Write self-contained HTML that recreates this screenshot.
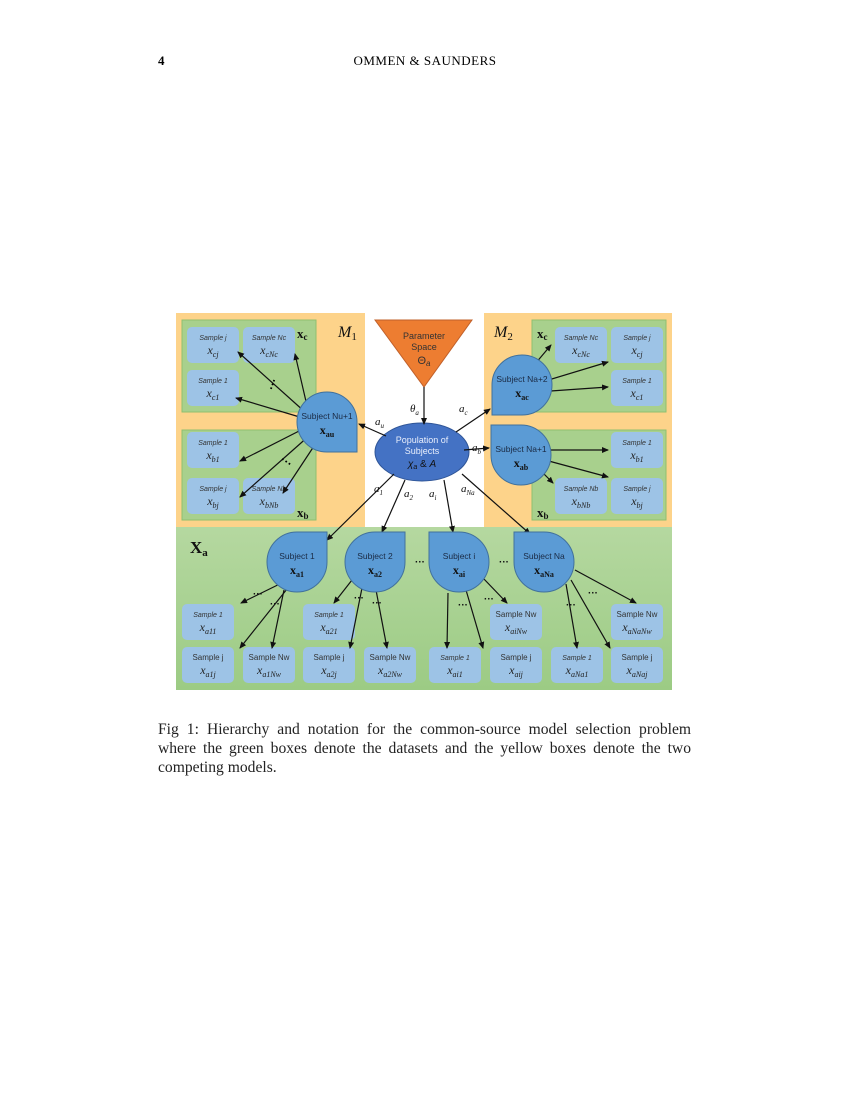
<!DOCTYPE html>
<html><head><meta charset="utf-8">
<style>
body{margin:0;width:850px;height:1100px;background:#fff;position:relative;font-family:"Liberation Serif",serif;}
.hdr{position:absolute;top:53px;font-size:13px;}
.cap{position:absolute;left:158px;top:720px;width:533px;font-size:15.6px;line-height:19px;color:#222;}
.cap div{text-align:justify;text-align-last:justify;white-space:nowrap;}
.cap div.l{text-align-last:left;}
svg{position:absolute;left:0;top:0;}
svg text{font-family:"Liberation Sans",sans-serif;}
</style></head><body>
<div class="hdr" style="left:158px;font-weight:bold">4</div>
<div class="hdr" style="left:0;width:850px;text-align:center;letter-spacing:0.5px">OMMEN &amp; SAUNDERS</div>
<div class="cap"><div style="white-space:normal">Fig 1: Hierarchy and notation for the common-source model selection problem</div><div style="white-space:normal">where the green boxes denote the datasets and the yellow boxes denote the two</div><div class="l">competing models.</div></div>
<svg id="s" width="850" height="1100" xmlns="http://www.w3.org/2000/svg">
<defs>
<marker id="ar" markerWidth="8" markerHeight="8" refX="6" refY="3" orient="auto" markerUnits="userSpaceOnUse"><path d="M0,0 L7,3 L0,6 z" fill="#111"/></marker>
<linearGradient id="gb" x1="0" y1="0" x2="0" y2="1"><stop offset="0" stop-color="#b5d8a0"/><stop offset="1" stop-color="#9ccb84"/></linearGradient>
</defs>
<rect x="176" y="313" width="189" height="214" fill="#fdd38a"/>
<rect x="484" y="313" width="188" height="214" fill="#fdd38a"/>
<rect x="176" y="527" width="496" height="163" fill="url(#gb)"/>
<rect x="182" y="320" width="134" height="92" fill="#a8d08d" stroke="#8fbf70"/>
<rect x="182" y="430" width="134" height="90" fill="#a8d08d" stroke="#8fbf70"/>
<rect x="532" y="320" width="134" height="92" fill="#a8d08d" stroke="#8fbf70"/>
<rect x="532" y="430" width="134" height="90" fill="#a8d08d" stroke="#8fbf70"/>
<polygon points="375,320 472,320 424,387" fill="#ed7d31" stroke="#c0602a"/>
<text x="424" y="339" font-size="9" text-anchor="middle" fill="#333">Parameter</text>
<text x="424" y="350" font-size="9" text-anchor="middle" fill="#333">Space</text>
<text x="424" y="364" font-size="11" text-anchor="middle" fill="#333">Θ<tspan font-style="italic" font-size="8" dy="2">a</tspan></text>
<ellipse cx="422" cy="452" rx="47" ry="29" fill="#4472c4" stroke="#2f5597"/>
<text x="422" y="443" font-size="9" text-anchor="middle" fill="#e8eefc">Population of</text>
<text x="422" y="454" font-size="9" text-anchor="middle" fill="#e8eefc">Subjects</text>
<text x="422" y="467" font-size="10" text-anchor="middle" fill="#111" font-style="italic">χ<tspan font-size="7" dy="2">a</tspan><tspan dy="-2" font-style="normal"> &amp; </tspan>A</text>
<g font-style="italic" font-size="16" fill="#111">
<text x="338" y="337" style="font-family:'Liberation Serif'">M<tspan font-size="11" font-style="normal" dy="3">1</tspan></text>
<text x="494" y="337" style="font-family:'Liberation Serif'">M<tspan font-size="11" font-style="normal" dy="3">2</tspan></text>
</g>
<g font-weight="bold" fill="#111">
<text x="297" y="338" font-size="13" style="font-family:'Liberation Serif'">x<tspan font-size="9" dy="2">c</tspan></text>
<text x="537" y="338" font-size="13" style="font-family:'Liberation Serif'">x<tspan font-size="9" dy="2">c</tspan></text>
<text x="297" y="517" font-size="13" style="font-family:'Liberation Serif'">x<tspan font-size="9" dy="2">b</tspan></text>
<text x="537" y="517" font-size="13" style="font-family:'Liberation Serif'">x<tspan font-size="9" dy="2">b</tspan></text>
<text x="190" y="553" font-size="17" style="font-family:'Liberation Serif'">X<tspan font-size="11" dy="3">a</tspan></text>
</g>
<g id="g"></g>
</svg>
<script>
var g=document.getElementById('g'),h='';
var SF="font-family:'Liberation Serif'";
function samp(x,y,t,sub,it){var w=52,hh=36;
h+='<rect x="'+x+'" y="'+y+'" width="'+w+'" height="'+hh+'" rx="5" fill="#9dc3e6"/>';
h+='<text x="'+(x+w/2)+'" y="'+(y+13)+'" font-size="'+(it?7:8)+'" text-anchor="middle" fill="#333"'+(it?' font-style="italic"':'')+'>'+t+'</text>';
h+='<text x="'+(x+w/2)+'" y="'+(y+27)+'" font-size="12" text-anchor="middle" fill="#222" font-style="italic" style="'+SF+'">x<tspan font-size="8" dy="3">'+sub+'</tspan></text>';}
function subj(cx,cy,c,t,sub){var r=30,p;
if(c=='tr')p='M'+cx+','+(cy-r)+' L'+(cx+r)+','+(cy-r)+' L'+(cx+r)+','+cy+' A'+r+','+r+' 0 1 1 '+cx+','+(cy-r)+'Z';
if(c=='tl')p='M'+(cx-r)+','+cy+' L'+(cx-r)+','+(cy-r)+' L'+cx+','+(cy-r)+' A'+r+','+r+' 0 1 1 '+(cx-r)+','+cy+'Z';
if(c=='br')p='M'+(cx+r)+','+cy+' L'+(cx+r)+','+(cy+r)+' L'+cx+','+(cy+r)+' A'+r+','+r+' 0 1 1 '+(cx+r)+','+cy+'Z';
if(c=='bl')p='M'+cx+','+(cy+r)+' L'+(cx-r)+','+(cy+r)+' L'+(cx-r)+','+cy+' A'+r+','+r+' 0 1 1 '+cx+','+(cy+r)+'Z';
h+='<path d="'+p+'" fill="#5b9bd5" stroke="#41719c"/>';
h+='<text x="'+cx+'" y="'+(cy-3)+'" font-size="8.5" text-anchor="middle" fill="#1a2a44">'+t+'</text>';
h+='<text x="'+cx+'" y="'+(cy+12)+'" font-size="12" font-weight="bold" text-anchor="middle" fill="#111" style="'+SF+'">x<tspan font-size="8" dy="3">'+sub+'</tspan></text>';}
function ar(x1,y1,x2,y2){h+='<line x1="'+x1+'" y1="'+y1+'" x2="'+x2+'" y2="'+y2+'" stroke="#111" stroke-width="1.2" marker-end="url(#ar)"/>';}
function lab(x,y,t,s){h+='<text x="'+x+'" y="'+y+'" font-size="11" font-style="italic" fill="#111" style="'+SF+'">'+t+(s?'<tspan font-size="7" dy="3">'+s+'</tspan>':'')+'</text>';}
function dots(x,y){h+='<text x="'+x+'" y="'+y+'" font-size="10" font-weight="bold" fill="#111">···</text>';}
samp(187,327,'Sample j','cj',1);samp(243,327,'Sample Nc','cNc',1);samp(187,370,'Sample 1','c1',1);
samp(187,432,'Sample 1','b1',1);samp(187,478,'Sample j','bj',1);samp(243,478,'Sample Nb','bNb',1);
samp(555,327,'Sample Nc','cNc',1);samp(611,327,'Sample j','cj',1);samp(611,370,'Sample 1','c1',1);
samp(611,432,'Sample 1','b1',1);samp(555,478,'Sample Nb','bNb',1);samp(611,478,'Sample j','bj',1);
samp(182,604,'Sample 1','a11',1);samp(182,647,'Sample j','a1j',0);samp(243,647,'Sample Nw','a1Nw',0);
samp(303,604,'Sample 1','a21',1);samp(303,647,'Sample j','a2j',0);samp(364,647,'Sample Nw','a2Nw',0);
samp(429,647,'Sample 1','ai1',1);samp(490,604,'Sample Nw','aiNw',0);samp(490,647,'Sample j','aij',0);
samp(551,647,'Sample 1','aNa1',1);samp(611,604,'Sample Nw','aNaNw',0);samp(611,647,'Sample j','aNaj',0);
ar(305,412,238,352);ar(308,410,295,354);ar(303,418,236,398);
ar(305,428,240,461);ar(310,435,240,497);ar(318,440,283,493);
ar(519,383,551,345);ar(522,388,608,362);ar(522,393,608,387);
ar(550,450,608,450);ar(545,460,608,477);ar(540,470,553,483);
ar(298,575,241,603);ar(291,584,240,648);ar(284,590,272,648);
ar(352,580,334,603);ar(362,588,350,648);ar(376,590,387,648);
ar(448,593,447,648);ar(466,590,483,648);ar(483,578,507,603);
ar(566,584,577,648);ar(571,580,610,648);ar(575,570,636,603);
ar(424,387,424,424);ar(386,436,359,424);ar(456,432,490,409);ar(464,450,489,448);
ar(394,474,327,540);ar(405,480,382,532);ar(444,480,453,532);ar(462,474,530,534);
subj(327,422,'br','Subject Nu+1','au');
subj(522,385,'bl','Subject Na+2','ac');
subj(521,455,'tl','Subject Na+1','ab');
subj(297,562,'tr','Subject 1','a1');subj(375,562,'tr','Subject 2','a2');
subj(459,562,'tl','Subject i','ai');subj(544,562,'tl','Subject Na','aNa');
lab(410,412,'θ','a');lab(375,425,'a','u');lab(459,412,'a','c');lab(472,451,'a','b');
lab(374,492,'a','1');lab(404,497,'a','2');lab(429,497,'a','i');lab(461,492,'a','Na');
dots(415,565);dots(499,565);dots(253,597);dots(270,607);dots(354,601);dots(372,606);
dots(458,608);dots(484,602);dots(566,608);dots(588,596);
h+='<text x="268" y="390" font-size="12" font-weight="bold" transform="rotate(-70 272 386)">···</text>';
h+='<text x="280" y="465" font-size="12" font-weight="bold" transform="rotate(35 285 462)">···</text>';
g.innerHTML=h;
</script>
</body></html>
